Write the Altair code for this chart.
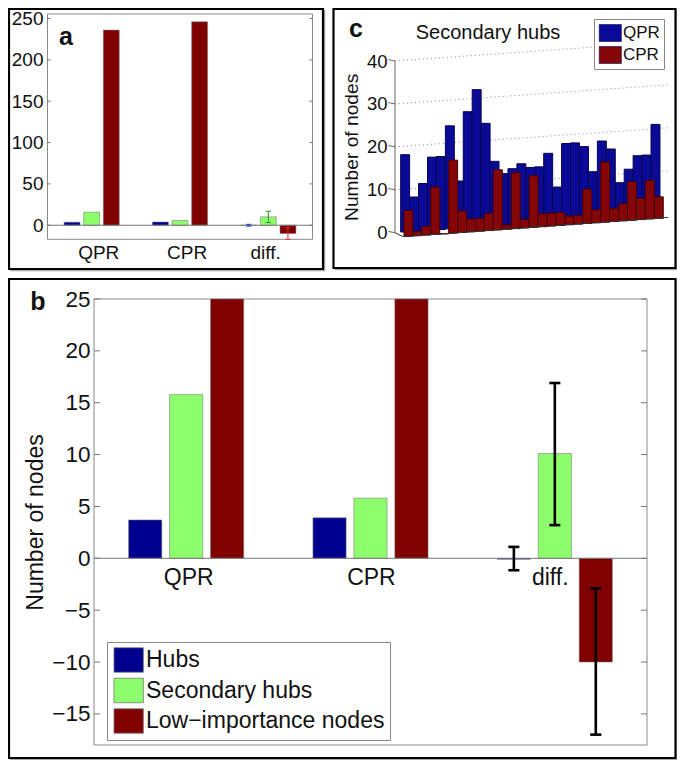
import altair as alt
import pandas as pd

FONT = "Liberation Sans"

# ---- data ----
groups = ["QPR", "CPR", "diff."]
series = ["Hubs", "Secondary hubs", "Low\u2212importance nodes"]
colors = ["#00008F", "#8DFF6C", "#800000"]
err_colors_a = ["#3A3AE0", "#2F8F3A", "#E03030"]
hubs = [3.7, 3.9, -0.1]
secondary = [15.8, 5.8, 10.1]
low = [236, 246, -10]
err_low = [-1.15, 3.2, -17.0]     # diff. group only
err_high = [1.1, 16.9, -2.9]

label_g_a = [1.08, 2.08, 2.97]
label_g_b = [1.014, 2.005, 2.975]

ticks_a = [0, 50, 100, 150, 200, 250]
ticks_b = [-15, -10, -5, 0, 5, 10, 15, 20, 25]
ticks_c = [0, 10, 20, 30, 40]

qpr = [18, 8, 11, 17, 17, 24, 11, 27, 32, 24, 15, 12, 13, 14, 13, 13, 16, 8, 18,
       18, 17, 11, 18, 16, 8, 11, 14, 14, 21]
cpr = [6, 1, 2, 11, 0, 17, 5, 3, 3, 4, 14, 1, 13, 2, 12, 3, 3, 3, 2,
       2, 8, 3, 14, 3, 4, 9, 5, 9, 5]
grid_end = [30, 30, 30, 30, 28]


def px(v):
    return v - 8


rows = []
for gi, g in enumerate(groups):
    for si, name in enumerate(series):
        v = [hubs, secondary, low][si][gi]
        rows.append({"group": g, "g": gi + 1, "s": si, "series": name, "v": v, "zero": 0})
bars_df = pd.DataFrame(rows)
err_df = pd.DataFrame({"g": [3, 3, 3], "s": [0, 1, 2], "series": series,
                       "lo": err_low, "hi": err_high})

X_A = alt.Scale(domain=[0.5, 3.5], range=[px(47.5), px(312.5)])
Y_A = alt.Scale(domain=[-17, 255.5], range=[px(239.3), px(14)])
X_B = alt.Scale(domain=[0.5, 3.5], range=[px(94), px(647)])
Y_B = alt.Scale(domain=[-18, 25], range=[px(745), px(299)], clamp=True)
X_C = alt.Scale(domain=[0, 30], range=[px(400.67), px(668.9)])
Y_C = alt.Scale(domain=[0, 40], range=[px(232.7), px(61)])
SER = alt.Scale(domain=series, range=colors)


def frame(x0, y0, x1, y1, stroke="black", sw=2.2, fill=None):
    kw = dict(stroke=stroke, strokeWidth=sw)
    kw["fill"] = fill if fill else "transparent"
    return alt.Chart(pd.DataFrame({"a": [1]})).mark_rect(**kw).encode(
        x=alt.value(px(x0)), x2=alt.value(px(x1)), y=alt.value(px(y0)), y2=alt.value(px(y1)))


def label(text, x, y, size, weight="normal"):
    return alt.Chart(pd.DataFrame({"t": [text]})).mark_text(
        font=FONT, fontSize=size, fontWeight=weight, color="#111", align="center", baseline="middle"
    ).encode(x=alt.value(px(x)), y=alt.value(px(y)), text="t:N")


def panel(xs, ys, ticks, box, font, group_font, tick_len, title, title_pad, label_pad, gy, label_g, err_w, err_scale, cap):
    left, top, right, bottom = box
    out = [frame(left, top, right, bottom, stroke="#8a8a8a", sw=1)]
    tdf = pd.DataFrame({"v": ticks})
    out.append(alt.Chart(tdf).mark_rule(color="#777", strokeWidth=1).encode(
        x=alt.value(px(right - tick_len)), x2=alt.value(px(right)), y=alt.Y("v:Q", scale=ys, axis=None)))
    out.append(alt.Chart(tdf).mark_rule(color="#777", strokeWidth=1).encode(
        x=alt.value(px(left)), x2=alt.value(px(left + tick_len)),
        y=alt.Y("v:Q", scale=ys, axis=alt.Axis(
            orient="left", offset=-px(left), domain=False, ticks=False, grid=False, values=ticks,
            labelFont=FONT, labelFontSize=font, labelColor="#111", labelPadding=label_pad,
            title=title, titleFont=FONT, titleFontSize=23, titleFontWeight="normal",
            titleColor="#111", titlePadding=title_pad, zindex=1))))
    out.append(alt.Chart(bars_df).mark_rect(stroke="#777", strokeWidth=0.8, strokeOpacity=0.7).transform_calculate(
        xl="datum.g + (datum.s - 1) * 0.2222 - 0.09",
        xr="datum.g + (datum.s - 1) * 0.2222 + 0.09",
    ).encode(
        x=alt.X("xl:Q", scale=xs, axis=None), x2="xr:Q",
        y=alt.Y("v:Q", scale=ys, axis=None), y2="zero:Q",
        color=alt.Color("series:N", scale=SER, legend=None)))
    zero = alt.Chart(pd.DataFrame({"v": [0]})).mark_rule(color="#777", strokeWidth=1).encode(
        x=alt.value(px(left)), x2=alt.value(px(right)), y=alt.Y("v:Q", scale=ys, axis=None))
    out.append(zero)
    ldf = pd.DataFrame({"t": groups, "g": label_g, "y": [gy] * 3})
    out.append(alt.Chart(ldf).mark_text(font=FONT, fontSize=group_font, color="#111", baseline="middle").encode(
        x=alt.X("g:Q", scale=xs, axis=None), y=alt.Y("y:Q", scale=alt.Scale(domain=ys.domain, range=ys.range), axis=None),
        text="t:N"))
    base = alt.Chart(err_df).transform_calculate(
        xc="datum.g + (datum.s - 1) * 0.2222",
        xa=f"datum.g + (datum.s - 1) * 0.2222 - {cap}",
        xb=f"datum.g + (datum.s - 1) * 0.2222 + {cap}",
    )
    col = alt.Color("series:N", scale=err_scale, legend=None)
    out.append(base.mark_rule(strokeWidth=err_w).encode(
        x=alt.X("xc:Q", scale=xs, axis=None), y=alt.Y("lo:Q", scale=ys, axis=None), y2="hi:Q", color=col))
    out.append(base.mark_rule(strokeWidth=err_w).encode(
        x=alt.X("xa:Q", scale=xs, axis=None), x2="xb:Q", y=alt.Y("lo:Q", scale=ys, axis=None), color=col))
    out.append(base.mark_rule(strokeWidth=err_w).encode(
        x=alt.X("xa:Q", scale=xs, axis=None), x2="xb:Q", y=alt.Y("hi:Q", scale=ys, axis=None), color=col))
    return out


layers = []
# outer frames with shadow
for box in [(9, 9, 323, 269), (333.5, 9, 675.5, 268), (9, 279, 675.5, 758)]:
    layers.append(frame(box[0] + 2, box[1] + 2, box[2] + 1.5, box[3] + 1.5, stroke="#aaa", sw=1.6))
    layers.append(frame(*box, fill="white"))

# panel a
err_a = alt.Scale(domain=series, range=err_colors_a)
layers += panel(X_A, Y_A, ticks_a, (47.5, 14, 312.5, 239.3), 19, 19, 3, None, 0, 4.5, -33.5, label_g_a, 1, err_a, 0.03)
# panel b
err_b = alt.Scale(domain=series, range=["#000000"] * 3)
layers += panel(X_B, Y_B, ticks_b, (94, 299, 647, 745), 22.5, 23, 6, "Number of nodes", 4, 4, -1.9, label_g_b, 2.6, err_b, 0.03)
# legend for b (on invisible points)
legend_b = alt.Chart(pd.DataFrame({"series": series})).mark_rect(opacity=0).encode(
    color=alt.Color("series:N", scale=SER, title=None, sort=series, legend=alt.Legend(
        orient="none", legendX=px(107), legendY=px(642), fillColor="white", strokeColor="#888",
        padding=5, symbolType="M-0.9,-1H1.5V1H-0.9Z", symbolSize=600, symbolStrokeColor="#777",
        symbolStrokeWidth=0.8, symbolOpacity=1, rowPadding=2.5, labelFont=FONT, labelFontSize=23,
        labelColor="#111", labelLimit=400, labelOffset=8, cornerRadius=0)),
    x=alt.value(0), x2=alt.value(1), y=alt.value(0), y2=alt.value(1))
layers.append(legend_b)

# panel c
grid_df = pd.DataFrame({"v": ticks_c, "end": grid_end})
gridc = alt.Chart(grid_df).transform_calculate(
    start="-0.64", top="datum.v + (datum.end + 0.64) * 0.145", tx="-1.38", ty="datum.v + 0.3")
layers.append(gridc.transform_filter("datum.v > 0").mark_rule(color="#888", strokeWidth=1, strokeDash=[1, 3]).encode(
    x=alt.X("start:Q", scale=X_C, axis=None), x2="end:Q",
    y=alt.Y("v:Q", scale=Y_C, axis=alt.Axis(
        orient="left", offset=-px(395), domain=False, ticks=False, grid=False, values=ticks_c,
        labelFont=FONT, labelFontSize=18.5, labelColor="#111", labelPadding=8,
        title="Number of nodes", titleFont=FONT, titleFontSize=19.2, titleFontWeight="normal",
        titleColor="#111", titlePadding=5, zindex=1)),
    y2="top:Q"))
layers.append(gridc.mark_rule(color="#666", strokeWidth=1).encode(
    x=alt.X("tx:Q", scale=X_C, axis=None), x2="start:Q",
    y=alt.Y("ty:Q", scale=Y_C, axis=None), y2="v:Q"))
axis_df = pd.DataFrame({"x": [-0.64], "a": [ticks_c[0]], "b": [ticks_c[-1]]})
layers.append(alt.Chart(axis_df).mark_rule(color="#666", strokeWidth=1).encode(
    x=alt.X("x:Q", scale=X_C, axis=None), y=alt.Y("a:Q", scale=Y_C, axis=None), y2="b:Q"))

c_names = ["QPR", "CPR"]
C_SER = alt.Scale(domain=c_names, range=["#0A0A96", "#850606"])
c_df = pd.DataFrame({"i": list(range(len(qpr))), "QPR": qpr, "CPR": cpr})
layers.append(alt.Chart(c_df).mark_rect(stroke="#05054F", strokeWidth=1).transform_calculate(
    x0="datum.i", x1="datum.i + 1", base="0.17 + 0.145 * datum.i", top="datum.base + datum.QPR", name="'QPR'"
).encode(
    x=alt.X("x0:Q", scale=X_C, axis=None), x2="x1:Q",
    y=alt.Y("top:Q", scale=Y_C, axis=None), y2="base:Q",
    color=alt.Color("name:N", scale=C_SER, title=None, sort=c_names, legend=alt.Legend(
        orient="none", legendX=px(594), legendY=px(19), fillColor="white", strokeColor="#888",
        padding=4, symbolType="M-0.95,-0.92H1.45V0.92H-0.95Z", symbolSize=340, symbolOpacity=1,
        symbolStrokeColor="#05054F", symbolStrokeWidth=0.6, rowPadding=2,
        labelFont=FONT, labelFontSize=17, labelColor="#111", labelOffset=5, labelLimit=200))))
layers.append(alt.Chart(c_df).mark_rect(stroke="#470000", strokeWidth=1).transform_calculate(
    x0="datum.i + 0.37", x1="datum.i + 1.37", base="-0.85 + 0.15 * datum.i", top="datum.base + datum.CPR", name="'CPR'"
).encode(
    x=alt.X("x0:Q", scale=X_C, axis=None), x2="x1:Q",
    y=alt.Y("top:Q", scale=Y_C, axis=None), y2="base:Q",
    color=alt.Color("name:N", scale=C_SER, legend=None)))
base_df = pd.DataFrame({"xa": [-0.64, 0.3], "xb": [0.3, 29.93], "ya": [0, -0.93], "yb": [-0.93, 3.57]})
layers.append(alt.Chart(base_df).mark_rule(color="#333", strokeWidth=1).encode(
    x=alt.X("xa:Q", scale=X_C, axis=None), x2="xb:Q",
    y=alt.Y("ya:Q", scale=Y_C, axis=None), y2="yb:Q"))

layers.append(label("Secondary hubs", 488, 33, 20))
layers.append(label("a", 66, 37, 25, "bold"))
layers.append(label("b", 38, 302, 25, "bold"))
layers.append(label("c", 356, 29, 25, "bold"))

chart = alt.layer(*layers).resolve_scale(
    x="independent", y="independent", color="independent"
).resolve_axis(x="independent", y="independent").properties(
    width=669, height=752, padding=0, background="white",
    autosize=alt.AutoSizeParams(type="none"),
).configure_view(stroke=None)

chart.save("out.html", embed_options={"renderer": "svg", "actions": False})
